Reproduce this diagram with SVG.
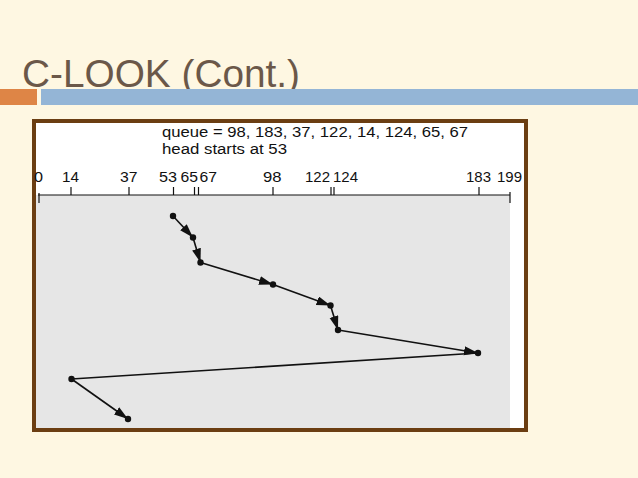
<svg xmlns="http://www.w3.org/2000/svg" width="638" height="478" viewBox="0 0 638 478">
<style>
.t{font-family:"Liberation Sans",Arial,sans-serif;font-size:15.5px;fill:#111}
.tick{stroke:#111;stroke-width:1.2}
.seg{stroke:#111;stroke-width:1.6;fill:none}
.dot{fill:#111}
</style>
<defs>
<marker id="ah" markerUnits="userSpaceOnUse" markerWidth="16" markerHeight="10" refX="14" refY="4.5" orient="auto">
<path d="M0,0 L14,4.5 L0,9 Z" fill="#111"/>
</marker>
</defs>
<rect x="0" y="0" width="638" height="478" fill="#FEF7E2"/>
<g id="title">
<text x="22" y="87" font-family="'Liberation Sans',Arial,sans-serif" font-size="39" fill="#6B5849" textLength="278" lengthAdjust="spacingAndGlyphs">C-LOOK (Cont.)</text>
<rect x="0" y="89" width="37" height="16" fill="#DE8546"/>
<rect x="41" y="89" width="597" height="16" fill="#94B5D6"/>
</g>
<g id="frame">
<rect x="34" y="121" width="492" height="309" fill="#FFFFFF" stroke="#6B3E12" stroke-width="4"/>
<rect x="36" y="195" width="474" height="233" fill="#E6E6E6"/>
</g>
<g id="header">
<text class="t" x="162" y="136.5" textLength="306" lengthAdjust="spacingAndGlyphs">queue = 98, 183, 37, 122, 14, 124, 65, 67</text>
<text class="t" x="162" y="154" textLength="125" lengthAdjust="spacingAndGlyphs">head starts at 53</text>
</g>
<g id="axis">
<line class="tick" x1="38" y1="195" x2="510" y2="195"/>
<line class="tick" x1="39" y1="193" x2="39" y2="203"/>
<line class="tick" x1="510" y1="192" x2="510" y2="203"/>
<line class="tick" x1="71" y1="187" x2="71" y2="195"/>
<line class="tick" x1="129" y1="187" x2="129" y2="195"/>
<line class="tick" x1="173.5" y1="187" x2="173.5" y2="195"/>
<line class="tick" x1="194.5" y1="187" x2="194.5" y2="195"/>
<line class="tick" x1="198.5" y1="187" x2="198.5" y2="195"/>
<line class="tick" x1="273" y1="187" x2="273" y2="195"/>
<line class="tick" x1="331" y1="187" x2="331" y2="195"/>
<line class="tick" x1="334" y1="187" x2="334" y2="195"/>
<line class="tick" x1="479" y1="187" x2="479" y2="195"/>
<text class="t" x="34" y="182" textLength="9" lengthAdjust="spacingAndGlyphs">0</text>
<text class="t" x="62" y="182" textLength="17" lengthAdjust="spacingAndGlyphs">14</text>
<text class="t" x="120" y="182" textLength="17.5" lengthAdjust="spacingAndGlyphs">37</text>
<text class="t" x="159" y="182" textLength="18" lengthAdjust="spacingAndGlyphs">53</text>
<text class="t" x="180.5" y="182" textLength="17.5" lengthAdjust="spacingAndGlyphs">65</text>
<text class="t" x="199.5" y="182" textLength="17.5" lengthAdjust="spacingAndGlyphs">67</text>
<text class="t" x="263" y="182" textLength="18.5" lengthAdjust="spacingAndGlyphs">98</text>
<text class="t" x="305" y="182" textLength="25" lengthAdjust="spacingAndGlyphs">122</text>
<text class="t" x="333" y="182" textLength="25" lengthAdjust="spacingAndGlyphs">124</text>
<text class="t" x="466" y="182" textLength="25" lengthAdjust="spacingAndGlyphs">183</text>
<text class="t" x="497" y="182" textLength="25" lengthAdjust="spacingAndGlyphs">199</text>
</g>
<g id="connectors">
<line class="seg" x1="173" y1="216" x2="193" y2="237.5" marker-end="url(#ah)"/>
<line class="seg" x1="193" y1="237.5" x2="200.5" y2="262.5" marker-end="url(#ah)"/>
<line class="seg" x1="200.5" y1="262.5" x2="273" y2="284.5" marker-end="url(#ah)"/>
<line class="seg" x1="273" y1="284.5" x2="330.5" y2="305.5" marker-end="url(#ah)"/>
<line class="seg" x1="330.5" y1="305.5" x2="338" y2="330" marker-end="url(#ah)"/>
<line class="seg" x1="338" y1="330" x2="478" y2="353" marker-end="url(#ah)"/>
<line class="seg" x1="478" y1="353" x2="71.5" y2="379"/>
<line class="seg" x1="71.5" y1="379" x2="128" y2="419" marker-end="url(#ah)"/>
</g>
<g id="points">
<circle class="dot" cx="173" cy="216" r="3.2"/>
<circle class="dot" cx="193" cy="237.5" r="3.2"/>
<circle class="dot" cx="200.5" cy="262.5" r="3.2"/>
<circle class="dot" cx="273" cy="284.5" r="3.2"/>
<circle class="dot" cx="330.5" cy="305.5" r="3.2"/>
<circle class="dot" cx="338" cy="330" r="3.2"/>
<circle class="dot" cx="478" cy="353" r="3.2"/>
<circle class="dot" cx="71.5" cy="379" r="3.2"/>
<circle class="dot" cx="128" cy="419" r="3.2"/>
</g>
</svg>
